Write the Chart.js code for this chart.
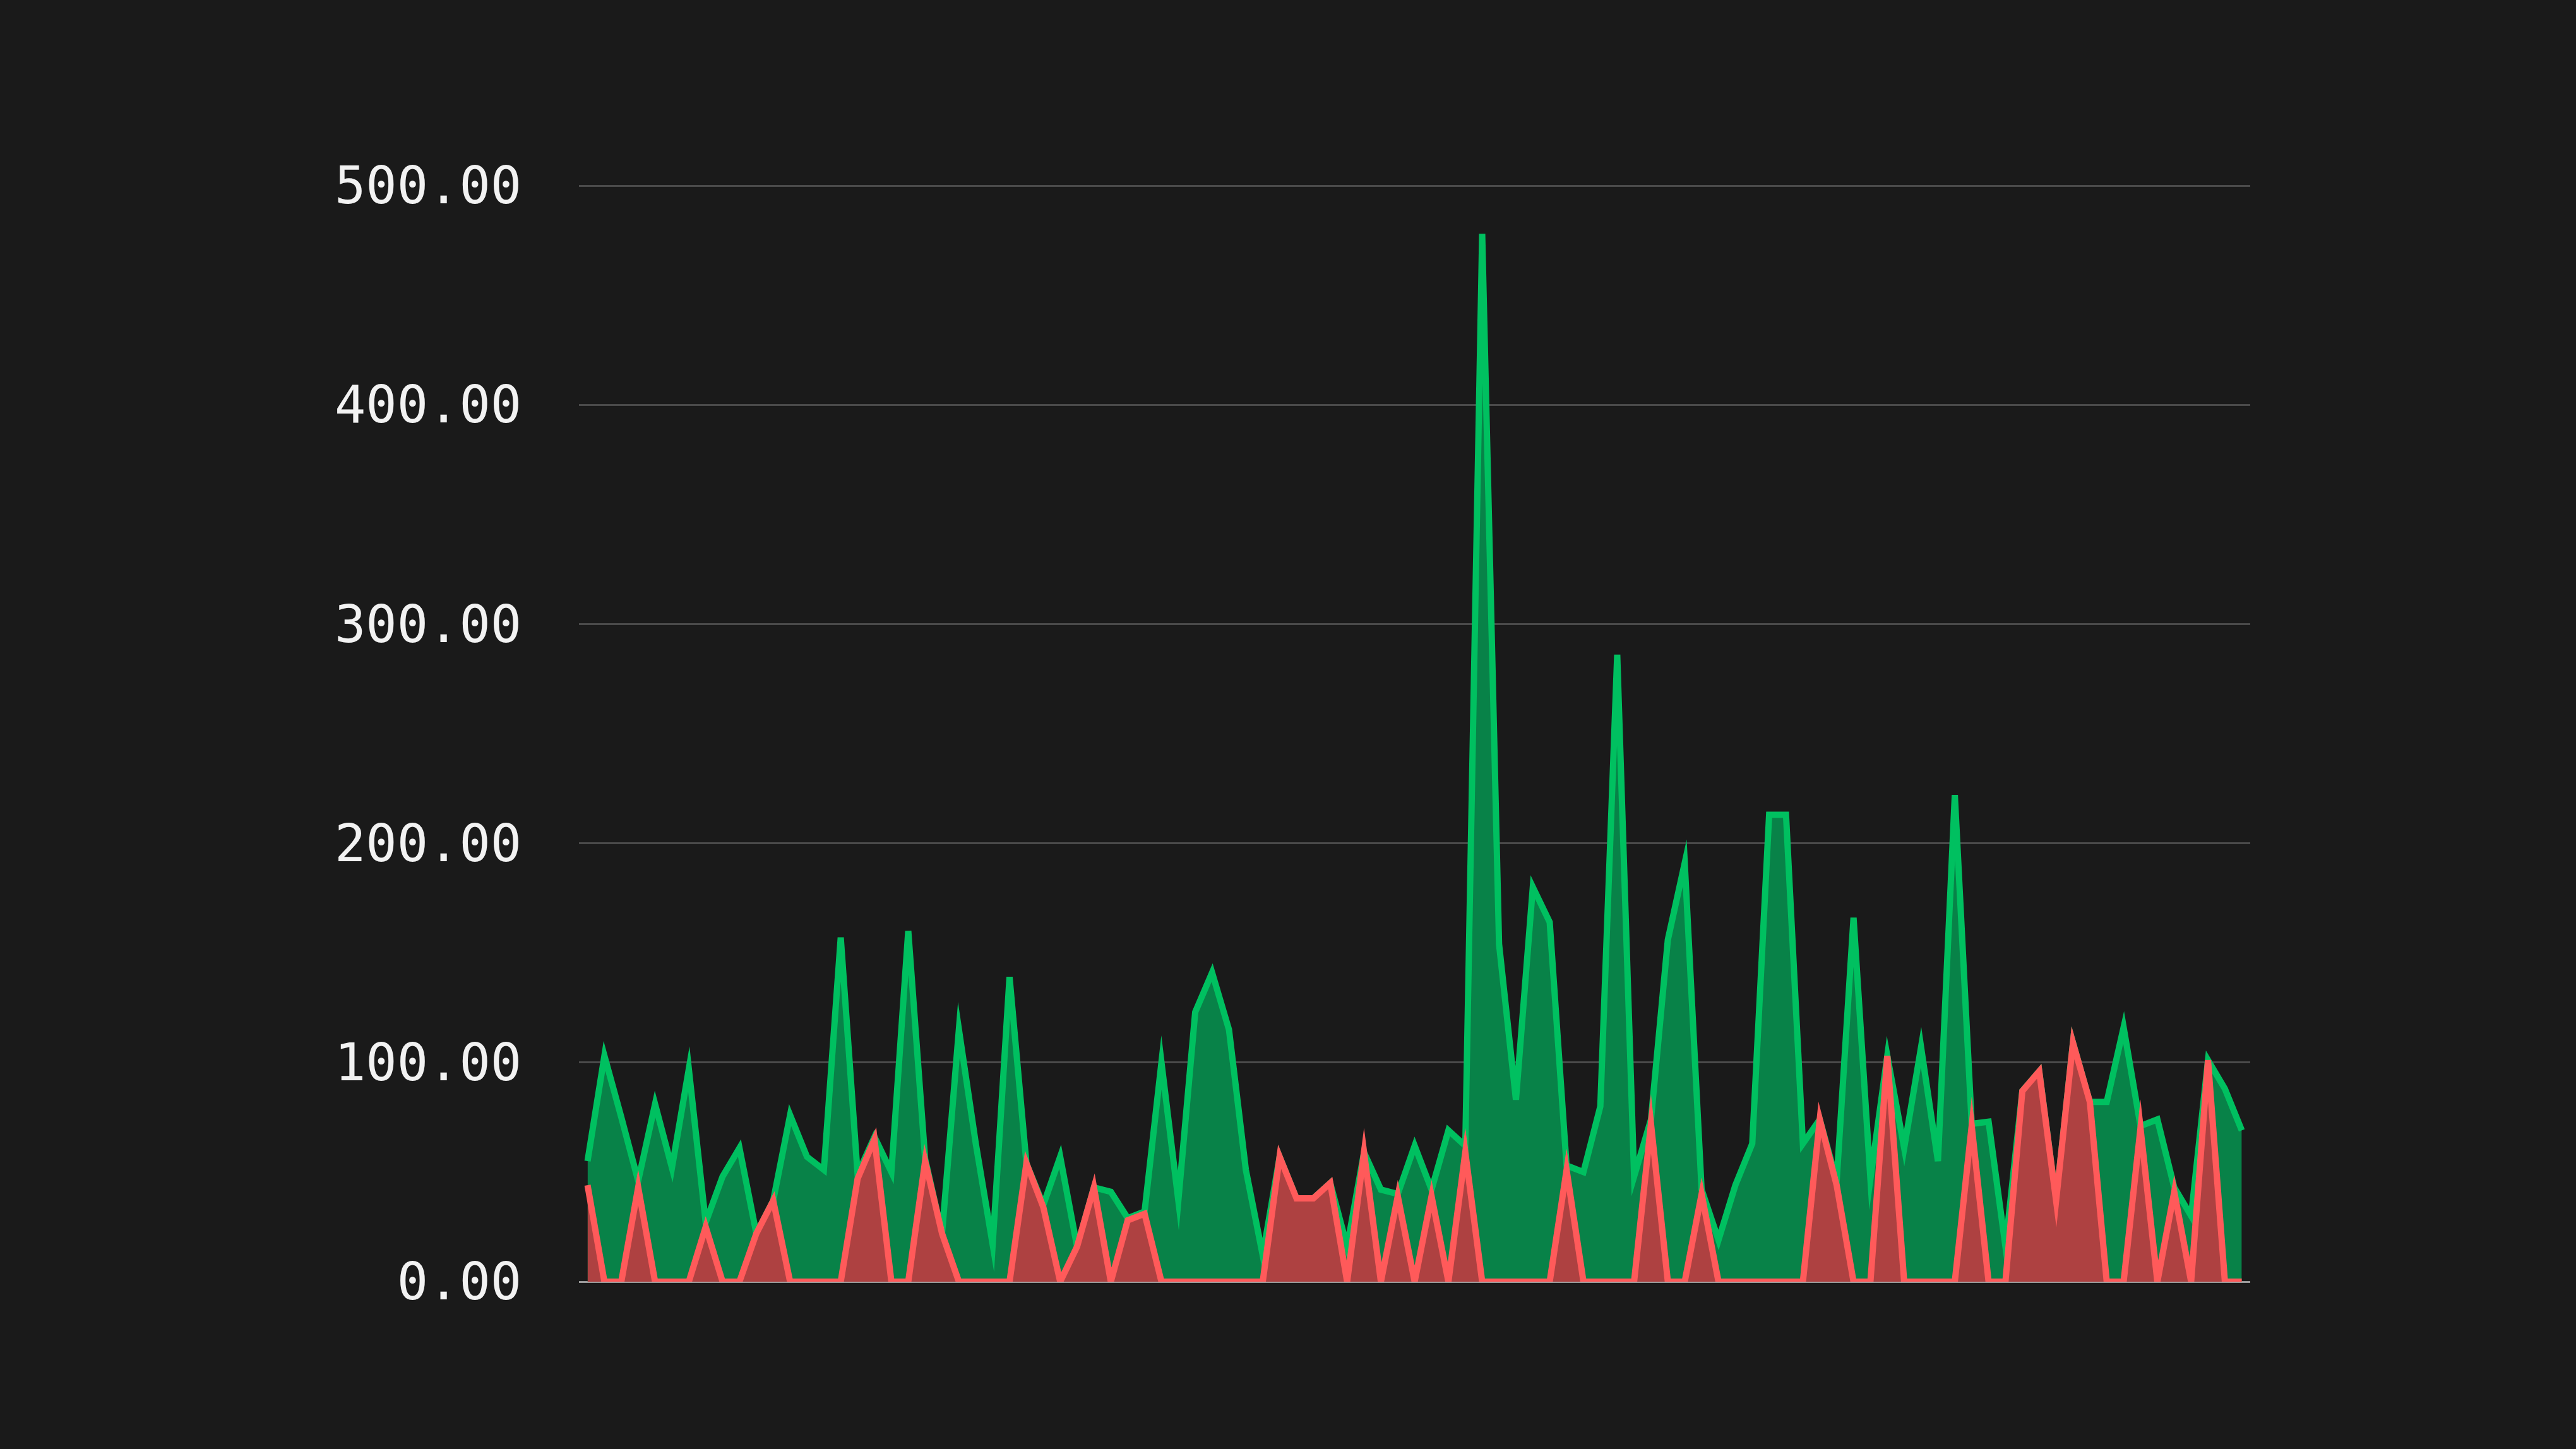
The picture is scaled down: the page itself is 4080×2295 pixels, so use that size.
<!DOCTYPE html>
<html>
<head>
<meta charset="utf-8">
<title>Area chart</title>
<script src="https://cdn.jsdelivr.net/npm/chart.js@4.4.1/dist/chart.umd.min.js"></script>
<style>
    html, body {
        margin: 0;
        padding: 0;
        background: #1a1a1a;
    }
    .chart-container {
        width: 4080px;
        height: 2295px;
    }
</style>
</head>
<body>
<div class="chart-container">
    <canvas id="areaChart" width="4080" height="2295"></canvas>
</div>
<script>
// Values, one per point (99 points)
const greenValues = [
    55, 103, 75, 46, 81, 52, 97, 27, 48, 61,
    22, 37, 76, 57, 51, 157, 49, 66, 50, 160,
    56, 22, 115, 63, 17, 139, 54, 35, 57, 16,
    43, 41, 29, 32, 100, 37, 123, 141, 115, 51,
    12, 57, 38, 38, 45, 16, 59, 42, 40, 62,
    42, 69, 62, 478, 154, 83, 180, 164, 53, 50,
    80, 286, 48, 74, 156, 191, 42, 19, 44, 63,
    213, 213, 63, 74, 46, 166, 47, 103, 61, 107,
    55, 222, 72, 73, 16, 87, 96, 37, 109, 82,
    82, 116, 71, 74, 43, 30, 101, 88, 69
];
const redValues = [
    44, 0, 0, 43, 0, 0, 0, 25, 0, 0,
    22, 37, 0, 0, 0, 0, 47, 65, 0, 0,
    55, 22, 0, 0, 0, 0, 54, 34, 0, 16,
    43, 0, 28, 31, 0, 0, 0, 0, 0, 0,
    0, 57, 38, 38, 45, 0, 59, 0, 39, 0,
    39, 0, 59, 0, 0, 0, 0, 0, 51, 0,
    0, 0, 0, 72, 0, 0, 40, 0, 0, 0,
    0, 0, 0, 74, 44, 0, 0, 103, 0, 0,
    0, 0, 71, 0, 0, 87, 96, 37, 109, 82,
    0, 0, 70, 0, 41, 0, 101, 0, 0
];
const yTicks = [0, 100, 200, 300, 400, 500];
const pointLabels = greenValues.map((_, i) => i + 1);

document.addEventListener('DOMContentLoaded', function() {
    try {
        if (typeof Chart === 'undefined') {
            console.error("Chart.js library not loaded!");
            return;
        }
        const ctx = document.getElementById('areaChart').getContext('2d');

        window.currentChart = new Chart(ctx, {
            type: 'line',
            data: {
                labels: pointLabels,
                datasets: [
                    {
                        label: 'Red',
                        data: redValues,
                        borderColor: '#ff5a5a',
                        backgroundColor: '#ae4141',
                        borderWidth: 10,
                        fill: 'origin',
                        pointRadius: 0,
                        tension: 0,
                        clip: 0,
                        order: 0
                    },
                    {
                        label: 'Green',
                        data: greenValues,
                        borderColor: '#00c060',
                        backgroundColor: '#088248',
                        borderWidth: 10,
                        fill: 'origin',
                        pointRadius: 0,
                        tension: 0,
                        clip: 0,
                        order: 1
                    }
                ]
            },
            options: {
                responsive: false,
                animation: false,
                devicePixelRatio: 1,
                layout: {
                    padding: { left: 439, right: 516, top: 294, bottom: 265 }
                },
                plugins: {
                    legend: { display: false },
                    tooltip: { enabled: false }
                },
                scales: {
                    x: {
                        display: false,
                        offset: true
                    },
                    y: {
                        min: yTicks[0],
                        max: yTicks[yTicks.length - 1],
                        afterBuildTicks: function(axis) {
                            axis.ticks = yTicks.map(v => ({ value: v }));
                        },
                        border: { display: false },
                        grid: {
                            drawTicks: false,
                            lineWidth: 3,
                            color: function(c) {
                                return c.tick && c.tick.value === 0 ? '#9a9a9a' : '#4a4a4a';
                            }
                        },
                        ticks: {
                            padding: 91,
                            labelOffset: 7,
                            color: '#f2f2f2',
                            font: { family: '"DejaVu Sans Mono", monospace', size: 82 },
                            callback: function(value) {
                                return Number(value).toFixed(2);
                            }
                        }
                    }
                }
            }
        });
        console.log("Chart created");
    } catch (error) {
        console.error("Error creating chart:", error);
    }
});
</script>
</body>
</html>
